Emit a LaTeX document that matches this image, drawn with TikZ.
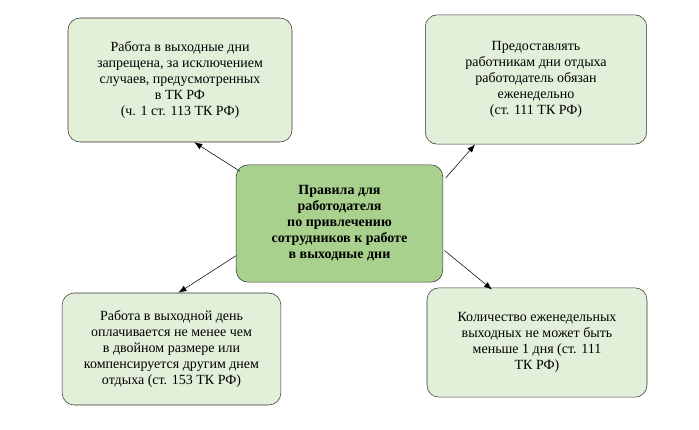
\documentclass[tikz,border=0pt]{standalone}
\usepackage{fontspec}
\setmainfont{Liberation Serif}
\usepackage{xcolor}
\usetikzlibrary{arrows.meta}
\definecolor{lightgreen}{HTML}{E2EFD9}
\definecolor{midgreen}{HTML}{A9D18E}

\begin{document}
\begin{tikzpicture}[x=0.75pt, y=-0.75pt,
    rulebox/.style={draw=black!80, fill=lightgreen, rounded corners=9pt, align=center,
        font=\fontsize{10.5}{12}\selectfont, inner sep=2pt},
    link/.style={-{Latex[length=6pt,width=4.5pt]}, thin}]

    % Frame of the picture
    \useasboundingbox (0,0) rectangle (699,429);

    % Central box
    \node[rulebox, fill=midgreen, font=\fontsize{10.5}{12}\selectfont\bfseries,
        minimum width=155pt, minimum height=88pt] (Rules) at (339.5,223.5)
        {Правила для\\работодателя\\по привлечению\\сотрудников к работе\\в выходные дни};

    % Outer boxes
    \node[rulebox, minimum width=168pt, minimum height=93pt] (Ban) at (180,80)
        {Работа в выходные дни\\запрещена, за исключением\\случаев, предусмотренных\\в ТК РФ\\(ч. 1 ст. 113 ТК РФ)};
    \node[rulebox, minimum width=166pt, minimum height=97pt] (Rest) at (536,79.5)
        {Предоставлять\\работникам дни отдыха\\работодатель обязан\\еженедельно\\(ст. 111 ТК РФ)};
    \node[rulebox, minimum width=164pt, minimum height=84pt] (Pay) at (171.5,349)
        {Работа в выходной день\\оплачивается не менее чем\\в двойном размере или\\компенсируется другим днем\\отдыха (ст. 153 ТК РФ)};
    \node[rulebox, minimum width=165pt, minimum height=82pt] (Count) at (537,342.5)
        {Количество еженедельных\\выходных не может быть\\меньше 1 дня (ст. 111\\ТК РФ)};

    % Connectors
    \draw[link] ([xshift=3pt,yshift=-5pt]Rules.north west) -- ([xshift=-73.5pt]Ban.south east);
    \draw[link] ([xshift=2pt,yshift=-10pt]Rules.north east) -- ([xshift=37.5pt]Rest.south west);
    \draw[link] ([yshift=20pt]Rules.south west) -- ([xshift=-77pt]Pay.north east);
    \draw[link] ([xshift=1pt,yshift=24pt]Rules.south east) -- ([xshift=49pt,yshift=-1.5pt]Count.north west);

\end{tikzpicture}
\end{document}
